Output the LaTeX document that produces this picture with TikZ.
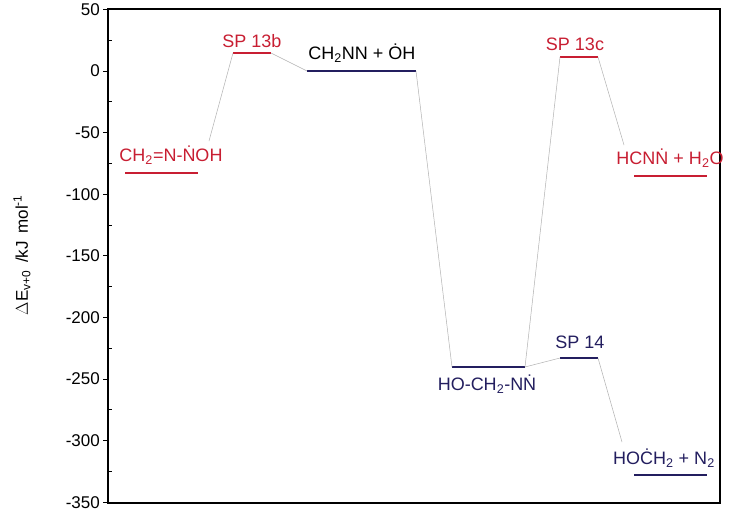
\documentclass[tikz,border=0pt]{standalone}
\usepackage{fontspec}
\setmainfont{Liberation Sans}
\begin{document}
\begin{tikzpicture}[x=1pt,y=-1pt,
  lvR/.style={draw=myred,line width=1.5pt},
  lvB/.style={draw=mynavy,line width=1.5pt},
  conn/.style={draw=gray!60,line width=0.5pt},
  labR/.style={text=myred,font=\fontsize{18}{19}\selectfont,inner sep=1pt},
  labB/.style={text=mynavy,font=\fontsize{18}{19}\selectfont,inner sep=1pt},
  lab/.style={text=black,font=\fontsize{18}{19}\selectfont,inner sep=1pt}]
\definecolor{myred}{RGB}{200,30,50}
\definecolor{mynavy}{RGB}{35,30,95}
\useasboundingbox (0,0) rectangle (734,514);
\fill[white] (0,0) rectangle (734,514);
\draw[line width=1.5pt] (108,9) rectangle (720,503);
\foreach \v/\t in {50/50,0/0,-50/-50,-100/-100,-150/-150,-200/-200,-250/-250,-300/-300,-350/-350}{
  \draw[line width=1pt] (103,{71-1.2325*\v}) -- (108,{71-1.2325*\v});
  \node[anchor=east,font=\fontsize{17}{18}\selectfont,inner sep=0pt] at (100,{71-1.2325*\v}) {\t};}
\foreach \v in {25,-25,-75,-125,-175,-225,-275,-325}{
  \draw[line width=1pt] (108,{71-1.2325*\v}) -- (112,{71-1.2325*\v});}
\node[rotate=90,font=\fontsize{17}{18}\selectfont] (ylab) at (22,255) {$\Delta$E\textsubscript{v+0}\, /kJ\, mol\textsuperscript{-1}};
% levels
\coordinate (a1) at (125,173); \coordinate (a2) at (198,173);
\coordinate (b1) at (233,53); \coordinate (b2) at (271,53);
\coordinate (c1) at (307,71); \coordinate (c2) at (416,71);
\coordinate (d1) at (452,367); \coordinate (d2) at (525,367);
\coordinate (e1) at (560,57); \coordinate (e2) at (598,57);
\coordinate (f1) at (634,176); \coordinate (f2) at (707,176);
\coordinate (g1) at (560,358); \coordinate (g2) at (598,358);
\coordinate (h1) at (634,475); \coordinate (h2) at (707,475);
\draw[lvR] (a1) -- (a2); \draw[lvR] (b1) -- (b2); \draw[lvB] (c1) -- (c2);
\draw[lvB] (d1) -- (d2); \draw[lvR] (e1) -- (e2); \draw[lvR] (f1) -- (f2);
\draw[lvB] (g1) -- (g2); \draw[lvB] (h1) -- (h2);
% connectors
\coordinate (a3) at (209,141);
\coordinate (f3) at (624,145);
\coordinate (h3) at (622,442);
\draw[conn] (a3) -- (b1); \draw[conn] (b2) -- (c1); \draw[conn] (c2) -- (d1);
\draw[conn] (d2) -- (e1); \draw[conn] (e2) -- (f3); \draw[conn] (d2) -- (g1);
\draw[conn] (g2) -- (h3);
% labels
\node[labR] (la) at (171,155) {CH\textsubscript{2}=N-\.NOH};
\node[labR] (lb) at (252,41) {SP 13b};
\node[lab] (lc) at (362,53) {CH\textsubscript{2}NN + \.OH};
\node[labB] (ld) at (487,384) {HO-CH\textsubscript{2}-N\.N};
\node[labR] (le) at (575,44) {SP 13c};
\node[labR] (lf) at (670,158) {HCN\.N + H\textsubscript{2}O};
\node[labB] (lg) at (580,342) {SP 14};
\node[labB] (lh) at (664,458) {HO\.CH\textsubscript{2} + N\textsubscript{2}};
\end{tikzpicture}
\end{document}
